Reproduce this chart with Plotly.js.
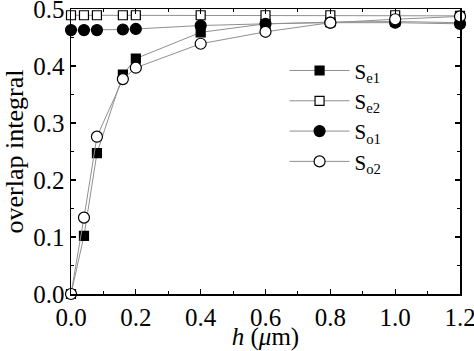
<!DOCTYPE html>
<html>
<head>
<meta charset="utf-8">
<script src="https://cdn.plot.ly/plotly-3.0.1.min.js"></script>
<style>html,body{margin:0;padding:0;background:#fff;}#chart{width:474px;height:351px;}</style>
</head>
<body>
<div id="chart"></div>
<script>
var h = [0, 0.04, 0.08, 0.16, 0.2, 0.4, 0.6, 0.8, 1.0, 1.2];
var Se1 = [0, 0.102, 0.247, 0.385, 0.413, 0.459, 0.474, 0.477, 0.478, 0.476];
var Se2 = [0.489, 0.489, 0.489, 0.489, 0.489, 0.489, 0.489, 0.489, 0.489, 0.488];
var So1 = [0.463, 0.463, 0.463, 0.464, 0.465, 0.471, 0.474, 0.476, 0.476, 0.474];
var So2 = [0, 0.134, 0.276, 0.377, 0.397, 0.439, 0.460, 0.476, 0.482, 0.487];
var names = ['S<sub>e1</sub>', 'S<sub>e2</sub>', 'S<sub>o1</sub>', 'S<sub>o2</sub>'];
var xTicks = [0, 0.2, 0.4, 0.6, 0.8, 1.0, 1.2];
var yTicks = [0, 0.1, 0.2, 0.3, 0.4, 0.5];

var font = '"Liberation Serif", "Times New Roman", serif';
function tr(y, name, symbol, fill, size) {
  return {
    x: h, y: y, name: name, type: 'scatter', mode: 'lines+markers',
    cliponaxis: false,
    line: {color: '#909090', width: 1},
    marker: {symbol: symbol, size: size, color: fill, line: {color: '#000', width: 1.2}}
  };
}
var data = [
  tr(Se1, names[0], 'square', '#000', 9),
  tr(Se2, names[1], 'square', '#fff', 9),
  tr(So1, names[2], 'circle', '#000', 11),
  tr(So2, names[3], 'circle', '#fff', 11)
];
var axisCommon = {
  showline: true, linecolor: '#000', linewidth: 1.5, mirror: 'ticks',
  ticks: 'inside', ticklen: 5, tickwidth: 1.2, tickcolor: '#000',
  showgrid: false, zeroline: false, ticklabeloverflow: 'allow',
  tickfont: {family: font, size: 25, color: '#000'}
};
var layout = {
  width: 474, height: 351,
  margin: {l: 71, r: 14, t: 9, b: 57},
  paper_bgcolor: '#fff', plot_bgcolor: '#fff',
  font: {family: font, color: '#000'},
  showlegend: true,
  legend: {x: 0.549, y: 0.855, xanchor: 'left', yanchor: 'top', bgcolor: 'rgba(0,0,0,0)',
           font: {family: font, size: 21, color: '#000'}, itemwidth: 60, tracegroupgap: 0},
  xaxis: Object.assign({}, axisCommon, {
    range: [0, 1.2], tickvals: xTicks, ticktext: xTicks.map(function(v){return v.toFixed(1);}),
    minor: {dtick: 0.1, ticks: 'inside', ticklen: 3, tickcolor: '#000', tickwidth: 1},
    title: {text: '<i>h</i> (<i>μ</i>m)', font: {family: font, size: 25, color: '#000'}, standoff: 0}
  }),
  yaxis: Object.assign({}, axisCommon, {
    range: [0, 0.5], tickvals: yTicks, ticktext: yTicks.map(function(v){return v.toFixed(1);}),
    minor: {dtick: 0.05, ticks: 'inside', ticklen: 3, tickcolor: '#000', tickwidth: 1},
    title: {text: 'overlap integral', font: {family: font, size: 26, color: '#000'}, standoff: 6}
  })
};
Plotly.newPlot('chart', data, layout, {displayModeBar: false, staticPlot: true});
</script>
</body>
</html>
